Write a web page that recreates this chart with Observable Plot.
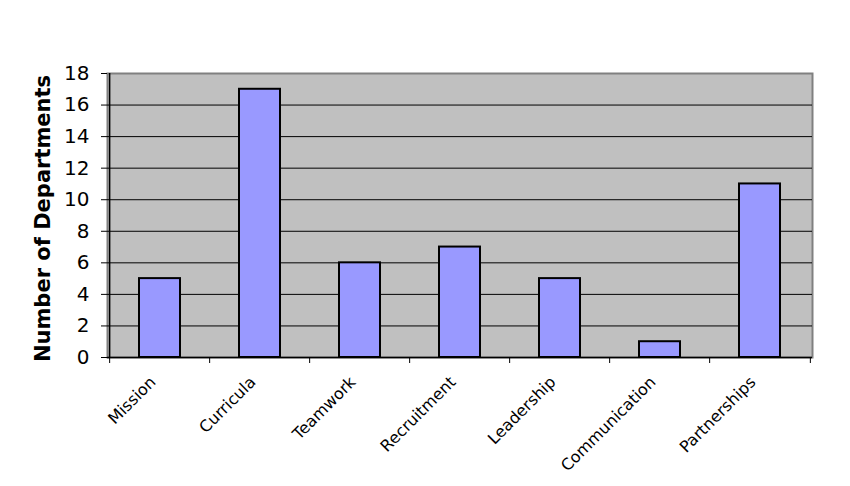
<!DOCTYPE html>
<html><head><meta charset="utf-8">
<script src="https://cdn.jsdelivr.net/npm/d3@7"></script>
<script src="https://cdn.jsdelivr.net/npm/@observablehq/plot@0.6"></script>
<style>body{margin:0;background:#fff}</style>
</head><body><div id="chart"></div>
<script>
const categories = ["Mission","Curricula","Teamwork","Recruitment","Leadership","Communication","Partnerships"];
const values = [5, 17, 6, 7, 5, 1, 11];
const yTicks = [0, 2, 4, 6, 8, 10, 12, 14, 16, 18];
const yTitle = "Number of Departments";

const data = categories.map((c, i) => ({category: c, value: values[i]}));
const W = 850, H = 486, mL = 107, mR = 38, mT = 73, mB = 129;
const step = (W - mL - mR) / categories.length;

const chart = Plot.plot({
  width: W, height: H,
  marginLeft: mL, marginRight: mR, marginTop: mT, marginBottom: mB,
  style: {fontFamily: "'DejaVu Sans', Verdana, sans-serif", background: "#fff", color: "#000"},
  x: {domain: categories, paddingInner: 0.59, paddingOuter: 0.295, align: 0.5},
  y: {domain: [0, 18]},
  marks: [
    Plot.frame({fill: "#c0c0c0", stroke: "#808080", strokeWidth: 2}),
    Plot.ruleY(yTicks.filter(t => t > 0 && t < 18), {stroke: "#000", strokeWidth: 1}),
    Plot.barY(data, {x: "category", y: "value", fill: "#9999ff", stroke: "#000", strokeWidth: 2}),
    Plot.ruleY([0], {stroke: "#000", strokeWidth: 1.5}),
    Plot.ruleX([categories[0]], {dx: -step / 2, stroke: "#000", strokeWidth: 1.5}),
    Plot.ruleX(categories, {x: d => d, y1: 0, y2: 0, dx: -step / 2, insetBottom: -6, stroke: "#000"}),
    Plot.ruleX([categories[categories.length - 1]], {x: d => d, y1: 0, y2: 0, dx: step / 2, insetBottom: -6, stroke: "#000"}),
    Plot.axisY({ticks: yTicks, tickSize: 6, tickPadding: 12, fontSize: 20, label: null}),
    Plot.axisX({tickSize: 0, tickRotate: -45, tickPadding: 22, dx: -7, fontSize: 16, label: null}),
    Plot.text([yTitle], {frameAnchor: "left", dx: -64, dy: 3, rotate: -90, textAnchor: "middle", fontWeight: "bold", fontSize: 21})
  ]
});
document.getElementById("chart").appendChild(chart);
</script>
</body></html>
